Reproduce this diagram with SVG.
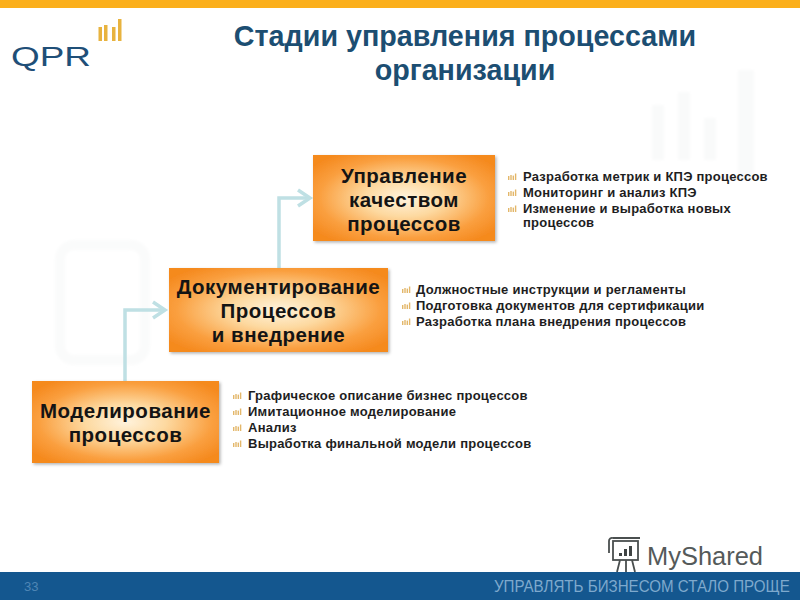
<svg xmlns="http://www.w3.org/2000/svg" width="800" height="600" viewBox="0 0 800 600">
<style>
.t{font-family:"Liberation Sans",Arial,sans-serif}
.title{font-size:28.700px;font-weight:700;fill:#1c4e72;text-anchor:middle}
.node{font-size:20.500px;font-weight:700;fill:#141414;text-anchor:middle;letter-spacing:.5px}
.li{font-size:13px;font-weight:700;fill:#1e1e1e;letter-spacing:.24px}
.box{fill:url(#og);filter:url(#sh)}
.conn{fill:none;stroke:#bfe0e4;stroke-width:3.5}
.bar{fill:#e3b76a}
</style>
<defs>
<radialGradient id="og" cx=".5" cy=".5" r=".62">
<stop offset="0" stop-color="#fff3dd"/><stop offset=".35" stop-color="#fdd9a0"/><stop offset=".75" stop-color="#fa9f3f"/><stop offset="1" stop-color="#f58a1f"/>
</radialGradient>
<filter id="sh" x="-5%" y="-5%" width="112%" height="115%"><feDropShadow dx="1.5" dy="1.5" stdDeviation="1.5" flood-color="#000" flood-opacity=".3"/></filter>
<filter id="bl"><feGaussianBlur stdDeviation="1.500"/></filter>
<g id="b"><rect class="bar" x="0" y="3" width="1.4" height="4"/><rect class="bar" x="2.3" y="2" width="1.4" height="5"/><rect class="bar" x="4.6" y="2.6" width="1.4" height="4.4"/><rect class="bar" x="6.9" y="0.5" width="1.4" height="6.5"/></g>
</defs>
<rect width="800" height="600" fill="#fff"/>
<g id="watermark" fill="#f9fafa" filter="url(#bl)">
<rect x="652" y="105" width="12" height="55"/><rect x="678" y="92" width="12" height="68"/><rect x="704" y="118" width="12" height="42"/><rect x="738" y="70" width="16" height="110"/>
<rect x="60" y="245" width="85" height="115" rx="14" fill="none" stroke="#fafbfb" stroke-width="10"/>
</g>
<rect id="top-bar" width="800" height="8" fill="#fbaf1b"/>
<g id="logo">
<text class="t" x="11" y="66" font-size="27" fill="#1f4f78" textLength="80" lengthAdjust="spacingAndGlyphs">QPR</text>
<g fill="#e8b33f"><rect x="98.500" y="27" width="3.500" height="14"/><rect x="104" y="25" width="3.500" height="16"/><rect x="112" y="27" width="3.500" height="14"/><rect x="118" y="19" width="3.500" height="22"/></g>
</g>
<g id="title"><text class="t title" x="465" y="46">Стадии управления процессами</text><text class="t title" x="465" y="80">организации</text></g>
<g id="connectors" class="conn">
<path d="M125 381V310H163"/><path d="M153 302l12 8l-12 8"/>
<path d="M279 268V198H308"/><path d="M298 190l12 8l-12 8"/>
</g>
<g id="node-quality"><rect class="box" x="313" y="155" width="182" height="86"/><text class="t node" x="404" y="183">Управление</text><text class="t node" x="404" y="207">качеством</text><text class="t node" x="404" y="231">процессов</text></g>
<g id="node-doc"><rect class="box" x="169" y="268" width="219" height="84"/><text class="t node" x="278.500" y="294">Документирование</text><text class="t node" x="278.500" y="318">Процессов</text><text class="t node" x="278.500" y="342">и внедрение</text></g>
<g id="node-model"><rect class="box" x="32" y="381" width="187" height="82"/><text class="t node" x="125.500" y="418">Моделирование</text><text class="t node" x="125.500" y="442">процессов</text></g>
<g id="list-quality">
<use href="#b" x="508" y="173"/><text class="t li" x="523" y="181">Разработка метрик и КПЭ процессов</text>
<use href="#b" x="508" y="189"/><text class="t li" x="523" y="197">Мониторинг и анализ КПЭ</text>
<use href="#b" x="508" y="205"/><text class="t li" x="523" y="212.500">Изменение и выработка новых</text><text class="t li" x="523" y="227">процессов</text>
</g>
<g id="list-doc">
<use href="#b" x="402" y="286"/><text class="t li" x="416" y="294">Должностные инструкции и регламенты</text>
<use href="#b" x="402" y="302"/><text class="t li" x="416" y="310">Подготовка документов для сертификации</text>
<use href="#b" x="402" y="318"/><text class="t li" x="416" y="326">Разработка плана внедрения процессов</text>
</g>
<g id="list-model">
<use href="#b" x="233" y="392"/><text class="t li" x="248" y="400">Графическое описание бизнес процессов</text>
<use href="#b" x="233" y="408"/><text class="t li" x="248" y="416">Имитационное моделирование</text>
<use href="#b" x="233" y="424"/><text class="t li" x="248" y="432">Анализ</text>
<use href="#b" x="233" y="440"/><text class="t li" x="248" y="448">Выработка финальной модели процессов</text>
</g>
<g id="myshared">
<g fill="none" stroke="#4a4f4f" stroke-width="1.800"><rect x="613" y="541" width="25" height="19"/><path d="M609 541a3 3 0 0 1 4-3H640"/><path d="M609 541v12M620 560l-3 12M626 560v12M632 560l3 12"/></g>
<g fill="#3f4444"><rect x="619" y="553" width="3" height="3"/><rect x="624" y="549" width="3" height="7"/><rect x="629" y="546" width="3" height="10"/></g>
<text class="t" x="647" y="565" font-size="26" fill="#555a5a" textLength="116" lengthAdjust="spacingAndGlyphs">MyShared</text>
</g>
<g id="footer"><rect y="572" width="800" height="28" fill="#14578f"/>
<text class="t" x="24" y="591" font-size="13" fill="#4f86b5">33</text>
<text class="t" transform="translate(494 592) scale(.89 1)" font-size="17" fill="#7ea9cd">УПРАВЛЯТЬ БИЗНЕСОМ СТАЛО ПРОЩЕ</text></g>
</svg>
